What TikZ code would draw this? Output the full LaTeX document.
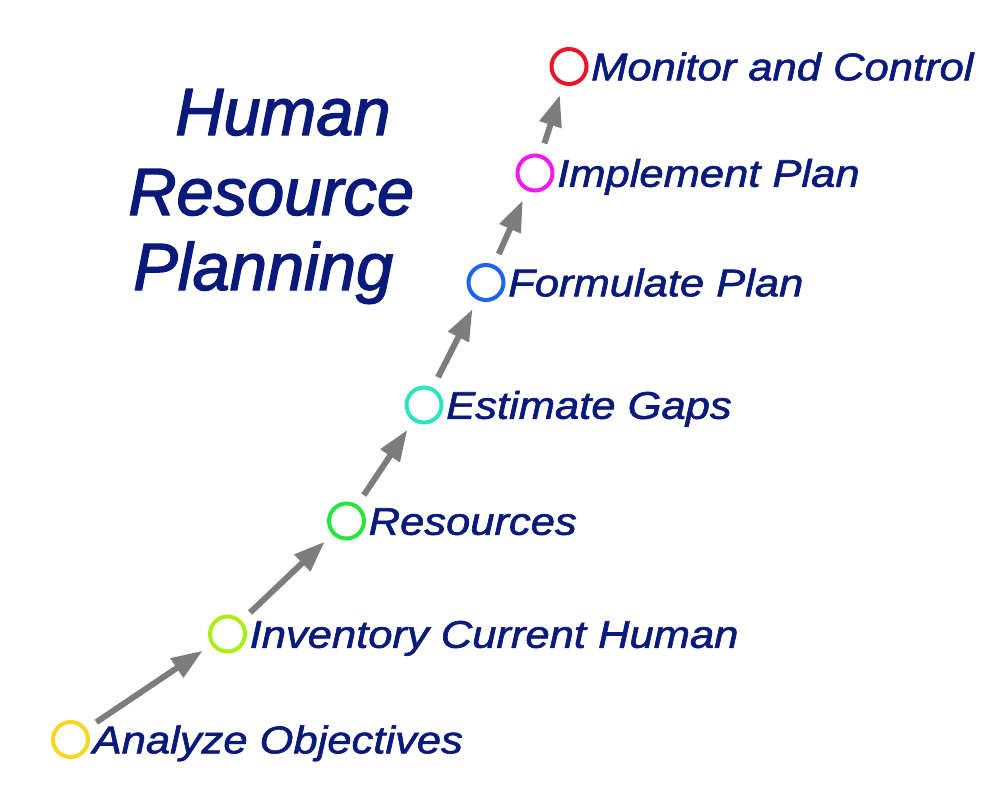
\documentclass[tikz,border=0pt]{standalone}
\usepackage{fontspec}
\setmainfont{Liberation Sans}[FakeBold=1.6]
\newfontfamily\lblfont{Liberation Sans}[FakeStretch=1.13, FakeBold=1.6]
\newfontfamily\ttlfont{Liberation Sans}[FakeBold=2]
\usetikzlibrary{arrows.meta, positioning}

\definecolor{hrblue}{RGB}{10,26,122}
\definecolor{arrgray}{RGB}{125,125,125}
\definecolor{cobj}{RGB}{250,214,30}
\definecolor{cinv}{RGB}{172,238,20}
\definecolor{cres}{RGB}{40,228,60}
\definecolor{cgap}{RGB}{45,228,190}
\definecolor{cform}{RGB}{30,100,240}
\definecolor{cimpl}{RGB}{240,25,240}
\definecolor{cmon}{RGB}{235,20,40}

\begin{document}
\begin{tikzpicture}[x=0.025cm, y=-0.025cm,
		ring/.style={circle, draw=#1, line width=2.85pt, minimum size=0.875cm, inner sep=0pt},
		lbl/.style={inner sep=0pt, text height=19.6pt, text depth=0pt, text=hrblue,
			font=\lblfont\itshape\fontsize{27.4pt}{30pt}\selectfont},
		ttl/.style={anchor=base west, inner sep=0pt, text=hrblue,
			font=\ttlfont\itshape\fontsize{47.5pt}{50pt}\selectfont},
		stepar/.style={draw=arrgray, line width=4.27pt, -{Triangle[length=0.78cm, width=0.55cm]},
			shorten <=0.29cm, shorten >=0.26cm}]
		\fill[white] (0,0) rectangle (1000,810);
		\useasboundingbox (0,0) rectangle (1000,810);
		
		% titolo
		\node[ttl] (t1) at (175,135) {Human};
		\node[ttl] (t2) at (128,215) {Resource};
		\node[ttl] (t3) at (133,290) {Planning};
		
		% cerchi
		\node[ring=cobj] (obj) at (70.5,739.5) {};
		\node[ring=cinv] (inv) at (227.5,634) {};
		\node[ring=cres] (res) at (346.5,521) {};
		\node[ring=cgap] (gap) at (424,405) {};
		\node[ring=cform] (form) at (486,282.5) {};
		\node[ring=cimpl] (impl) at (535,173) {};
		\node[ring=cmon] (mon) at (569,66.5) {};
		
		% testi
		\node[lbl, right=0.06cm of obj] (lobj) {Analyze Objectives};
		\node[lbl, right=0.06cm of inv] (linv) {Inventory Current Human};
		\node[lbl, right=0.06cm of res] (lres) {Resources};
		\node[lbl, right=0.06cm of gap] (lgap) {Estimate Gaps};
		\node[lbl, right=0.06cm of form] (lform) {Formulate Plan};
		\node[lbl, right=0.06cm of impl] (limpl) {Implement Plan};
		\node[lbl, right=0.06cm of mon] (lmon) {Monitor and Control};
		
		% frecce
		\draw[stepar] (obj)--(inv);
		\draw[stepar] (inv)--(res);
		\draw[stepar] (res)--(gap);
		\draw[stepar] (gap)--(form);
		\draw[stepar] (form)--(impl);
		\draw[stepar] (impl)--(mon);
\end{tikzpicture}
\end{document}
